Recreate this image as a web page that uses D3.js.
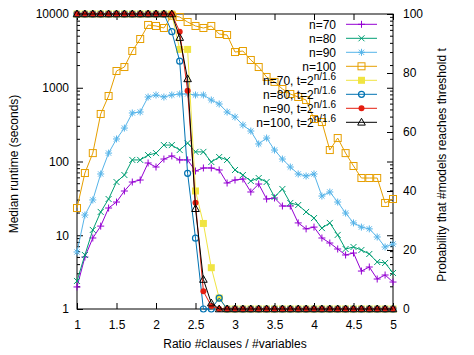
<!DOCTYPE html>
<html>
<head>
<meta charset="utf-8">
<script src="https://cdn.jsdelivr.net/npm/d3@7/dist/d3.min.js"></script>
<style>
html,body{margin:0;padding:0;background:#fff;}
text{font-family:"Liberation Sans",Arial,sans-serif;font-size:12px;fill:#000;}
</style>
</head>
<body>
<svg id="c" width="474" height="355"></svg>
<script>
// ---------- data ----------
const ratios = [1.0,1.1,1.2,1.3,1.4,1.5,1.6,1.7,1.8,1.9,2.0,2.1,2.2,2.3,2.4,2.5,2.6,2.7,2.8,2.9,3.0,
                3.1,3.2,3.3,3.4,3.5,3.6,3.7,3.8,3.9,4.0,4.1,4.2,4.3,4.4,4.5,4.6,4.7,4.8,4.9,5.0];

const runtimeN70 = [1.99,5.07,9.18,13.3,23.4,28.2,39.8,52.7,56.1,95.5,84.2,108,119,105,105,74.3,81.7,81.7,76.7,51.1,
                    56.1,57.9,38.6,49.5,31.0,32.0,24.9,24.9,14.7,12.2,12.9,9.18,7.85,6.51,5.40,5.74,3.27,3.71,2.55,2.89,2.32];
const runtimeN80 = [2.40,5.40,11.8,20.7,31.0,52.7,65.6,105,105,122,130,167,167,143,178,135,135,98.4,115,105,
                    76.7,65.6,54.4,59.7,52.7,33.0,42.4,27.4,25.7,20.7,17.1,12.5,14.7,10.1,6.51,6.93,6.31,5.57,4.34,4.21,3.08];
const runtimeN90 = [5.93,18.8,30.1,67.7,130,202,284,455,469,749,798,749,798,823,823,798,798,682,602,469,
                    401,313,259,173,208,143,108,84.2,67.7,63.6,67.7,34.0,38.6,28.2,20.0,14.7,12.9,12.2,9.47,6.93,7.61];
const runtimeN100 = [23.4,69.8,130,441,773,1687,1910,3150,4580,7100,6880,6460,9500,9100,7790,6880,6460,6880,5350,5190,
                     3050,3150,2380,1910,1400,1200,962,823,749,682,377,343,143,208,130,86.9,59.7,59.7,59.7,27.4,31.0];

const probN70 = [100,100,100,100,100,100,100,100,100,100,100,100,100,88,88,40,29,14,3.7,0,
                 0,0,0,0,0,0,0,0,0,0,0,0,0,0,0,0,0,0,0,0,0];
const probN80 = [100,100,100,100,100,100,100,100,100,100,100,100,94,84,46,24,0,0,3.7,0,
                 0,0,0,0,0,0,0,0,0,0,0,0,0,0,0,0,0,0,0,0,0];
const probN90 = [100,100,100,100,100,100,100,100,100,100,100,100,100,94,74,36,6,1,0,0,
                 0,0,0,0,0,0,0,0,0,0,0,0,0,0,0,0,0,0,0,0,0];
const probN100 = [100,100,100,100,100,100,100,100,100,100,100,100,100,92,78,34,10,2,0,0,
                  0,0,0,0,0,0,0,0,0,0,0,0,0,0,0,0,0,0,0,0,0];

const xTicks = [1,1.5,2,2.5,3,3.5,4,4.5,5];
const yTicks = [1,10,100,1000,10000];
const y2Ticks = [0,20,40,60,80,100];

const seriesNames = ["n=70","n=80","n=90","n=100","n=70, t=2","n=80, t=2","n=90, t=2","n=100, t=2"];
const seriesColors = ["#9400d3","#009e73","#56b4e9","#e69f00","#f0e442","#0072b2","#e51e10","#000000"];

// ---------- layout ----------
const L = 77, R = 393, T = 14, B = 309;
const svg = d3.select("#c");
const x = d3.scaleLinear().domain([1,5]).range([L,R]);
const y = d3.scaleLog().domain([1,10000]).range([B,T]);
const y2 = d3.scaleLinear().domain([0,100]).range([B,T]);

// axes
const gx = svg.append("g").attr("transform",`translate(0,${B})`)
  .call(d3.axisBottom(x).tickValues(xTicks).tickFormat(d3.format("")).tickSizeInner(-6).tickSizeOuter(0).tickPadding(11));
const gxt = svg.append("g").attr("transform",`translate(0,${T})`)
  .call(d3.axisTop(x).tickValues(xTicks).tickFormat("").tickSizeInner(-6).tickSizeOuter(0));
const gy = svg.append("g").attr("transform",`translate(${L},0)`)
  .call(d3.axisLeft(y).tickValues(yTicks).tickFormat(d3.format("d")).tickSizeInner(-6).tickSizeOuter(0).tickPadding(8));
const gyr = svg.append("g").attr("transform",`translate(${R},0)`)
  .call(d3.axisRight(y).tickValues(yTicks).tickFormat("").tickSizeInner(-6).tickSizeOuter(0));
const gy2 = svg.append("g").attr("transform",`translate(${R},0)`)
  .call(d3.axisRight(y2).tickValues(y2Ticks).tickFormat(d3.format("d")).tickSizeInner(-6).tickSizeOuter(0).tickPadding(10));
[gx,gxt,gy,gyr,gy2].forEach(g=>{
  g.select(".domain").remove();
  g.selectAll("line").attr("stroke","#000");
  g.selectAll("text").attr("font-family",null).attr("font-size",null).attr("fill","#000");
});

// minor log ticks
const minor = [];
for (let dec=1; dec<10000; dec*=10) for (let k=2;k<=9;k++) minor.push(dec*k);
svg.append("g").selectAll("line").data(minor).join("line")
  .attr("x1",L).attr("x2",L+3).attr("y1",d=>y(d)).attr("y2",d=>y(d)).attr("stroke","#000");
svg.append("g").selectAll("line").data(minor).join("line")
  .attr("x1",R).attr("x2",R-3).attr("y1",d=>y(d)).attr("y2",d=>y(d)).attr("stroke","#000");

// frame
svg.append("rect").attr("x",L).attr("y",T).attr("width",R-L).attr("height",B-T)
  .attr("fill","none").attr("stroke","#000").attr("stroke-width",1);

// axis titles
svg.append("text").attr("x",(L+R)/2).attr("y",348).attr("text-anchor","middle").text("Ratio #clauses / #variables");
svg.append("text").attr("transform",`translate(18,164) rotate(-90)`).attr("text-anchor","middle").text("Median runtime (seconds)");
svg.append("text").attr("transform",`translate(446,165) rotate(-90)`).attr("text-anchor","middle").text("Probability that #models reaches threshold t");

// ---------- markers ----------
function marker(g, type, cx, cy, color){
  const s = 3.5;
  if (type===1){
    g.append("path").attr("d",`M${cx-s},${cy}H${cx+s}M${cx},${cy-s}V${cy+s}`).attr("stroke",color).attr("fill","none");
  } else if (type===2){
    g.append("path").attr("d",`M${cx-3},${cy-3}L${cx+3},${cy+3}M${cx-3},${cy+3}L${cx+3},${cy-3}`).attr("stroke",color).attr("fill","none");
  } else if (type===3){
    g.append("path").attr("d",`M${cx-s},${cy}H${cx+s}M${cx},${cy-s}V${cy+s}M${cx-2.6},${cy-2.6}L${cx+2.6},${cy+2.6}M${cx-2.6},${cy+2.6}L${cx+2.6},${cy-2.6}`).attr("stroke",color).attr("fill","none");
  } else if (type===4){
    g.append("rect").attr("x",cx-3.5).attr("y",cy-3.5).attr("width",7).attr("height",7).attr("fill","none").attr("stroke",color);
  } else if (type===5){
    g.append("rect").attr("x",cx-3.5).attr("y",cy-3.5).attr("width",7).attr("height",7).attr("fill",color);
  } else if (type===6){
    g.append("circle").attr("cx",cx).attr("cy",cy).attr("r",3).attr("fill","none").attr("stroke",color).attr("stroke-width",1.2);
  } else if (type===7){
    g.append("circle").attr("cx",cx).attr("cy",cy).attr("r",3).attr("fill",color);
  } else if (type===8){
    g.append("path").attr("d",`M${cx},${cy-4}L${cx+3.8},${cy+2.8}L${cx-3.8},${cy+2.8}Z`).attr("fill","none").attr("stroke",color);
  }
}

const runtimeSeries = [runtimeN70,runtimeN80,runtimeN90,runtimeN100];
const probSeries = [probN70,probN80,probN90,probN100];
const allSeries = runtimeSeries.map(v=>({vals:v,scale:y})).concat(probSeries.map(v=>({vals:v,scale:y2})));

const plotG = svg.append("g");
allSeries.forEach((s,i)=>{
  const color = seriesColors[i];
  const line = d3.line().x((d,j)=>x(ratios[j])).y(d=>s.scale(d));
  const g = plotG.append("g");
  g.append("path").attr("d",line(s.vals)).attr("fill","none").attr("stroke",color).attr("stroke-width",1);
  s.vals.forEach((v,j)=>marker(g,i+1,x(ratios[j]),s.scale(v),color));
});

// ---------- legend ----------
const lg = svg.append("g");
seriesNames.forEach((name,i)=>{
  const ry = 24.3 + 14*i;
  const t = lg.append("text").attr("x",336).attr("y",ry+4.5).attr("text-anchor","end");
  t.append("tspan").text(name);
  if (i>=4) t.append("tspan").attr("dy",-5).attr("font-size","10px").text("n/1.6");
  lg.append("line").attr("x1",346).attr("x2",377).attr("y1",ry).attr("y2",ry).attr("stroke",seriesColors[i]);
  marker(lg,i+1,361.5,ry,seriesColors[i]);
});
</script>
</body>
</html>
